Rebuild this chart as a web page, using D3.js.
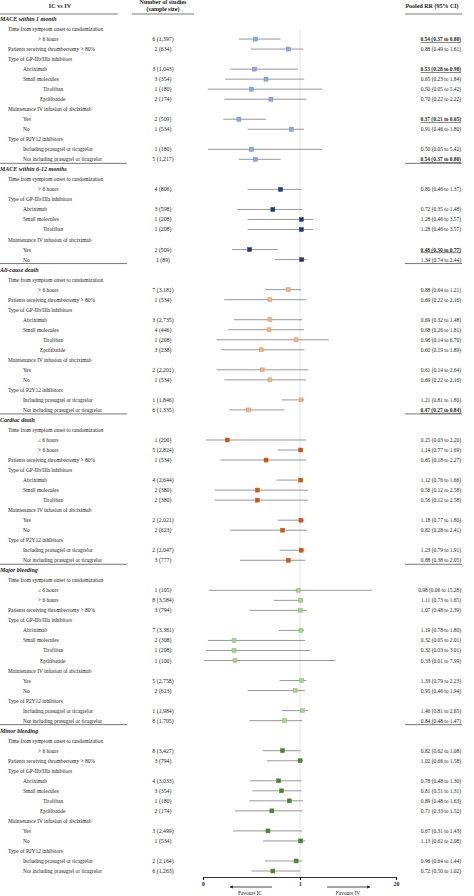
<!DOCTYPE html>
<html>
<head>
<meta charset="utf-8">
<title>Forest plot</title>
<style>
  body { margin: 0; background: #fff; }
  text { font-family: "Liberation Serif", "Times New Roman", serif; fill: #222; }
</style>
</head>
<body>
<div id="my_dataviz"></div>
<script src="https://d3js.org/d3.v7.min.js"></script>
<script>

// each row: [label, studies, rr, low, high, significant]; category rows have no numbers
var maceMonth = [
  ["Time from symptom onset to randomization"],
  ["> 6 hours", "6 (1,397)", 0.54, 0.37, 0.80, true],
  ["Patients receiving thrombectomy > 80%", "2 (634)", 0.88, 0.49, 1.61],
  ["Type of GP-IIb/IIIa inhibitors"],
  ["Abciximab", "3 (1,043)", 0.53, 0.28, 0.98, true],
  ["Small molecules", "3 (354)", 0.65, 0.23, 1.84],
  ["Tirofiban", "1 (180)", 0.50, 0.05, 5.42],
  ["Eptifibatide", "2 (174)", 0.70, 0.22, 2.22],
  ["Maintenance IV infusion of abciximab"],
  ["Yes", "2 (509)", 0.37, 0.21, 0.65, true],
  ["No", "1 (534)", 0.91, 0.46, 1.80],
  ["Type of P2Y12 inhibitors"],
  ["Including prasugrel or ticagrelor", "1 (180)", 0.50, 0.05, 5.42],
  ["Not including prasugrel or ticagrelor", "5 (1,217)", 0.54, 0.37, 0.80, true]
];
var maceYear = [
  ["Time from symptom onset to randomization"],
  ["> 6 hours", "4 (806)", 0.80, 0.46, 1.37],
  ["Type of GP-IIb/IIIa inhibitors"],
  ["Abciximab", "3 (598)", 0.72, 0.35, 1.48],
  ["Small molecules", "1 (208)", 1.28, 0.46, 3.57],
  ["Tirofiban", "1 (208)", 1.28, 0.46, 3.57],
  ["Maintenance IV infusion of abciximab"],
  ["Yes", "2 (509)", 0.48, 0.30, 0.77, true],
  ["No", "1 (89)", 1.34, 0.74, 2.44]
];
var allDeath = [
  ["Time from symptom onset to randomization"],
  ["> 6 hours", "7 (3,181)", 0.88, 0.64, 1.21],
  ["Patients receiving thrombectomy > 80%", "1 (534)", 0.69, 0.22, 2.16],
  ["Type of GP-IIb/IIIa inhibitors"],
  ["Abciximab", "3 (2,735)", 0.69, 0.32, 1.48],
  ["Small molecules", "4 (446)", 0.68, 0.26, 1.81],
  ["Tirofiban", "1 (208)", 0.96, 0.14, 6.70],
  ["Eptifibatide", "3 (238)", 0.60, 0.19, 1.89],
  ["Maintenance IV infusion of abciximab"],
  ["Yes", "2 (2,201)", 0.61, 0.14, 2.64],
  ["No", "1 (534)", 0.69, 0.22, 2.16],
  ["Type of P2Y12 inhibitors"],
  ["Including prasugrel or ticagrelor", "1 (1,846)", 1.21, 0.81, 1.80],
  ["Not including prasugrel or ticagrelor", "6 (1,335)", 0.47, 0.27, 0.84, true]
];
var cardiacDeath = [
  ["Time from symptom onset to randomization"],
  ["≤ 6 hours", "1 (200)", 0.25, 0.03, 2.20],
  ["> 6 hours", "5 (2,824)", 1.14, 0.77, 1.69],
  ["Patients receiving thrombectomy > 80%", "1 (534)", 0.65, 0.18, 2.27],
  ["Type of GP-IIb/IIIa inhibitors"],
  ["Abciximab", "4 (2,644)", 1.12, 0.76, 1.66],
  ["Small molecules", "2 (380)", 0.56, 0.12, 2.58],
  ["Tirofiban", "2 (380)", 0.56, 0.12, 2.58],
  ["Maintenance IV infusion of abciximab"],
  ["Yes", "2 (2,021)", 1.18, 0.77, 1.80],
  ["No", "2 (623)", 0.82, 0.28, 2.41],
  ["Type of P2Y12 inhibitors"],
  ["Including prasugrel or ticagrelor", "2 (2,047)", 1.23, 0.79, 1.91],
  ["Not including prasugrel or ticagrelor", "3 (777)", 0.88, 0.38, 2.05]
];
var majorBleed = [
  ["Time from symptom onset to randomization"],
  ["≤ 6 hours", "1 (105)", 0.98, 0.06, 15.28],
  ["> 6 hours", "8 (3,584)", 1.11, 0.73, 1.65],
  ["Patients receiving thrombectomy > 80%", "3 (794)", 1.07, 0.48, 2.39],
  ["Type of GP-IIb/IIIa inhibitors"],
  ["Abciximab", "7 (3,381)", 1.19, 0.78, 1.80],
  ["Small molecules", "2 (308)", 0.32, 0.05, 2.01],
  ["Tirofiban", "1 (208)", 0.32, 0.03, 3.01],
  ["Eptifibatide", "1 (100)", 0.33, 0.01, 7.99],
  ["Maintenance IV infusion of abciximab"],
  ["Yes", "5 (2,758)", 1.33, 0.79, 2.23],
  ["No", "2 (623)", 0.95, 0.46, 1.94],
  ["Type of P2Y12 inhibitors"],
  ["Including prasugrel or ticagrelor", "1 (1,984)", 1.46, 0.81, 2.65],
  ["Not including prasugrel or ticagrelor", "8 (1,705)", 0.84, 0.48, 1.47]
];
var minorBleed = [
  ["Time from symptom onset to randomization"],
  ["> 6 hours", "8 (3,427)", 0.82, 0.62, 1.08],
  ["Patients receiving thrombectomy > 80%", "3 (794)", 1.02, 0.66, 1.58],
  ["Type of GP-IIb/IIIa inhibitors"],
  ["Abciximab", "4 (3,033)", 0.78, 0.48, 1.30],
  ["Small molecules", "3 (354)", 0.81, 0.51, 1.31],
  ["Tirofiban", "1 (180)", 0.89, 0.48, 1.63],
  ["Eptifibatide", "2 (174)", 0.71, 0.33, 1.52],
  ["Maintenance IV infusion of abciximab"],
  ["Yes", "3 (2,499)", 0.67, 0.31, 1.43],
  ["No", "1 (534)", 1.13, 0.62, 2.08],
  ["Type of P2Y12 inhibitors"],
  ["Including prasugrel or ticagrelor", "2 (2,164)", 0.96, 0.64, 1.44],
  ["Not including prasugrel or ticagrelor", "6 (1,263)", 0.72, 0.50, 1.02]
];

var sectionNames = ["MACE within 1 month", "MACE within 6-12 months", "All-cause death",
                    "Cardiac death", "Major bleeding", "Minor bleeding"];
var sectionRows = [maceMonth, maceYear, allDeath, cardiacDeath, majorBleed, minorBleed];
var sectionFill = ["#8fa9dc", "#1f3c7a", "#f4b183", "#c55a11", "#a9d18e", "#548235"];
var sectionStroke = ["#6f8cc8", "#1f3c7a", "#e39a68", "#c55a11", "#8cbc6c", "#548235"];
var axisTicks = [0, 1, 20];

var width = 474, height = 896;
var svg = d3.select("#my_dataviz").append("svg")
  .attr("width", width).attr("height", height);

// left half linear 0..1, right half squeezed 1..20
var x = d3.scaleLinear().domain([0, 1, 20]).range([203, 300, 396]);

var indent = function(label) {
  if (label == "> 6 hours" || label == "≤ 6 hours") return 38;
  if (label == "Tirofiban") return 43;
  if (label == "Eptifibatide") return 40;
  if (["Abciximab", "Small molecules", "Yes", "No"].indexOf(label) >= 0) return 23;
  if (label.indexOf("including") >= 0 || label.indexOf("Including") >= 0) return 23;
  return 8;
};

// flatten to rows
var rows = [];
sectionRows.forEach(function(sec, i) {
  rows.push({head: sectionNames[i], sec: i});
  sec.forEach(function(r, j) {
    rows.push({label: r[0], n: r[1], rr: r[2], lo: r[3], hi: r[4], sig: r[5], sec: i, last: j == sec.length - 1});
  });
});

var y = d3.scaleLinear().domain([0, rows.length - 1]).range([19, 871]);
var fs = 5.4;

// header
svg.append("text").attr("x", 60).attr("y", 8).attr("text-anchor", "middle")
  .attr("font-size", 6.2).attr("font-weight", "bold").text("IC vs IV");
svg.append("text").attr("x", 163).attr("y", 4).attr("text-anchor", "middle")
  .attr("font-size", 6).attr("font-weight", "bold").text("Number of studies");
svg.append("text").attr("x", 163).attr("y", 11).attr("text-anchor", "middle")
  .attr("font-size", 6).attr("font-weight", "bold").text("(sample size)");
svg.append("text").attr("x", 432).attr("y", 8).attr("text-anchor", "middle")
  .attr("font-size", 6).attr("font-weight", "bold").text("Pooled RR (95% CI)");
[[0, 118], [132, 194], [405, 462]].forEach(function(s) {
  svg.append("line").attr("x1", s[0]).attr("x2", s[1]).attr("y1", 14).attr("y2", 14)
    .attr("stroke", "#555").attr("stroke-width", 0.8);
});

// reference line at 1
svg.append("line").attr("x1", x(1)).attr("x2", x(1)).attr("y1", 30).attr("y2", 877)
  .attr("stroke", "#ddd").attr("stroke-width", 0.8);

rows.forEach(function(d, i) {
  var yy = y(i);
  if (d.head) {
    svg.append("text").attr("x", 0).attr("y", yy + 2).attr("font-size", 6)
      .attr("font-weight", "bold").attr("font-style", "italic").text(d.head);
    return;
  }
  svg.append("text").attr("x", indent(d.label)).attr("y", yy + 2).attr("font-size", fs).text(d.label);
  if (d.rr != null) {
    svg.append("text").attr("x", 163).attr("y", yy + 2).attr("text-anchor", "middle")
      .attr("font-size", 5.8).text(d.n);
    var t = svg.append("text").attr("x", 461).attr("y", yy + 2).attr("text-anchor", "end")
      .attr("font-size", fs)
      .text(d.rr.toFixed(2) + " (" + d.lo.toFixed(2) + " to " + d.hi.toFixed(2) + ")");
    if (d.sig) t.attr("font-weight", "bold").attr("text-decoration", "underline");
    svg.append("line").attr("x1", x(d.lo)).attr("x2", x(d.hi)).attr("y1", yy).attr("y2", yy)
      .attr("stroke", "#7f7f7f").attr("stroke-width", 0.8);
    svg.append("rect").attr("x", x(d.rr) - 2).attr("y", yy - 2).attr("width", 4).attr("height", 4)
      .attr("fill", sectionFill[d.sec]).attr("stroke", sectionStroke[d.sec]).attr("stroke-width", 0.5);
  }
  if (d.last && d.sec < sectionNames.length - 1) {
    [[0, 127], [405, 462]].forEach(function(s) {
      svg.append("line").attr("x1", s[0]).attr("x2", s[1]).attr("y1", yy + 4).attr("y2", yy + 4)
        .attr("stroke", "#555").attr("stroke-width", 0.8);
    });
  }
});

// bottom axis
var axis = svg.append("g").attr("transform", "translate(0,877)")
  .call(d3.axisBottom(x).tickValues(axisTicks).tickSize(3).tickFormat(d3.format("d")));
axis.select(".domain").attr("stroke", "#333");
axis.selectAll("text").attr("font-size", 5.8).attr("font-weight", "bold")
  .attr("font-family", "Liberation Serif").attr("dy", "0.5em");

var defs = svg.append("defs");
defs.append("marker").attr("id", "arr").attr("viewBox", "0 0 10 10").attr("refX", 9).attr("refY", 5)
  .attr("markerWidth", 4).attr("markerHeight", 4).attr("orient", "auto")
  .append("path").attr("d", "M0,0L10,5L0,10z").attr("fill", "#222");
svg.append("line").attr("x1", 272).attr("x2", 230).attr("y1", 887).attr("y2", 887)
  .attr("stroke", "#222").attr("stroke-width", 0.8).attr("marker-end", "url(#arr)");
svg.append("line").attr("x1", 327).attr("x2", 370).attr("y1", 887).attr("y2", 887)
  .attr("stroke", "#222").attr("stroke-width", 0.8).attr("marker-end", "url(#arr)");
svg.append("text").attr("x", 250).attr("y", 895).attr("text-anchor", "middle").attr("font-size", fs).text("Favours IC");
svg.append("text").attr("x", 348).attr("y", 895).attr("text-anchor", "middle").attr("font-size", fs).text("Favours IV");

</script>
</body>
</html>
